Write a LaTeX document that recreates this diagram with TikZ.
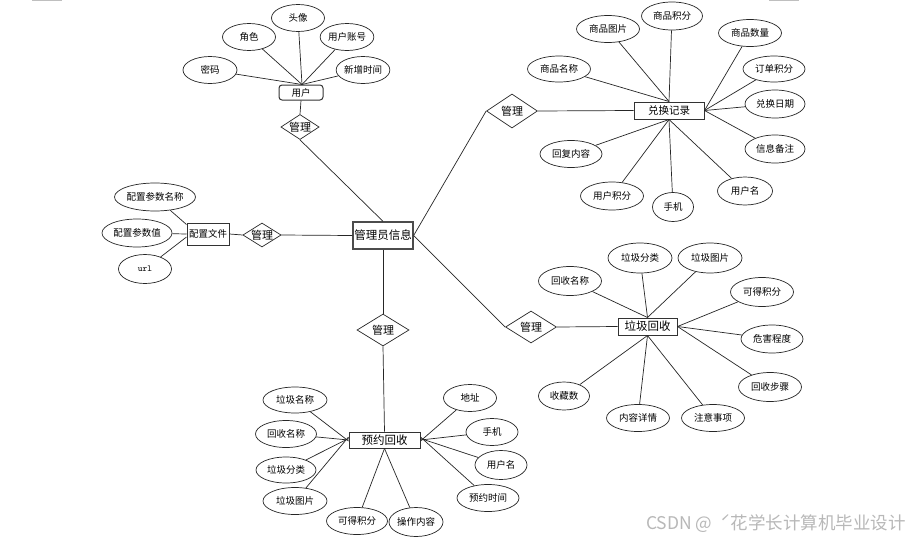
\documentclass[tikz,border=0pt]{standalone}
\usepackage{fontspec}
\setmainfont{Noto Sans CJK SC}
\usetikzlibrary{shapes.geometric}
\tikzset{
  attr/.style={ellipse, draw=black!85, line width=0.7pt, inner sep=0pt, minimum width=#1, minimum height=27, font=\fontsize{9.5}{10}\selectfont},
  attr/.default=62,
  ent/.style={rectangle, draw=black!80, line width=1pt, inner sep=0pt, font=\fontsize{10.5}{12}\selectfont},
  rel/.style={diamond, draw=black!85, line width=0.7pt, inner sep=0pt, aspect=1.6, font=\fontsize{11}{12}\selectfont},
  link/.style={draw=black!85, line width=0.7pt},
}
\begin{document}
\begin{tikzpicture}[x=1pt,y=-1pt]
\useasboundingbox (0,0) rectangle (910,541);
\fill[white] (0,0) rectangle (910,541);
\draw[gray!50, line width=1.2pt] (32,0.6) -- (62,0.6);
\draw[gray!50, line width=1.2pt] (769,0.6) -- (799,0.6);

% admin
\node[ent, minimum width=60, minimum height=27, line width=1.3pt, draw=black!70, font=\fontsize{11.5}{13}\selectfont] (admin) at (383,235.5) {管理员信息};

% user
\node[ent, rounded corners=3pt, minimum width=44, minimum height=15, font=\fontsize{9.5}{10}\selectfont] (user) at (301,92.5) {用户};
\node[attr=53] (u1) at (298,18) {头像};
\node[attr=53] (u2) at (249,37) {角色};
\node[attr=53] (u3) at (347,37) {用户账号};
\node[attr=54] (u4) at (210,70) {密码};
\node[attr=53] (u5) at (363,70) {新增时间};
\node[rel, minimum width=36, minimum height=25] (duser) at (300,127) {管理};
\foreach \n in {u1,u2,u3,u4,u5} \draw[link] (\n) -- ([xshift=1pt]user.north);
\draw[link] (user.south) -- (duser.north);
\draw[link] (duser.south) -- (admin.north);

% config
\node[ent, minimum width=42, minimum height=22, font=\fontsize{9.5}{10}\selectfont] (cfg) at (208,234) {配置文件};
\node[rel, minimum width=37, minimum height=24] (dcfg) at (262,235) {管理};
\node[attr=81, minimum height=28] (c1) at (155,197) {配置参数名称};
\node[attr=70, minimum height=28] (c2) at (137,233) {配置参数值};
\node[attr=53, minimum height=29, font=\ttfamily\fontsize{9}{10}\selectfont] (c3) at (145,269) {url};
\draw[link] (c1) -- ([yshift=-2pt]cfg.north west);
\draw[link] (c2) -- (cfg.west);
\draw[link] (c3) -- ([yshift=-3pt]cfg.west);
\draw[link] (cfg.east) -- (dcfg.west);
\draw[link] (dcfg.east) -- (admin.west);

% exchange
\node[ent, minimum width=70, minimum height=17] (ex) at (669,110.5) {兑换记录};
\node[rel, minimum width=51, minimum height=34] (dex) at (512,111) {管理};
\draw[link] (admin.east) -- (dex.west);
\draw[link] (dex.east) -- (ex.west);
\node[attr=63] (e1) at (608,29) {商品图片};
\node[attr=61, minimum height=28] (e2) at (672,16) {商品积分};
\node[attr=63] (e3) at (750,33) {商品数量};
\node[attr=63, minimum height=26] (e4) at (559,69) {商品名称};
\node[attr=62, minimum height=26] (e5) at (774,69) {订单积分};
\node[attr=60, minimum height=28] (e6) at (775,104) {兑换日期};
\node[attr=60, minimum height=28] (e7) at (775,149) {信息备注};
\node[attr=62] (e8) at (571,154) {回复内容};
\node[attr=63, minimum height=28] (e9) at (612,196) {用户积分};
\node[attr=41, minimum height=29] (e10) at (673,207) {手机};
\node[attr=55, minimum height=28] (e11) at (745,191) {用户名};
\foreach \n in {e1,e2,e4} \draw[link] (\n) -- (ex.north);
\foreach \n in {e3,e5,e6,e7} \draw[link] (\n) -- (ex.east);
\foreach \n in {e8,e9,e10,e11} \draw[link] (\n) -- (ex.south);

% garbage
\node[ent, minimum width=59, minimum height=17, font=\fontsize{11.5}{13}\selectfont] (gb) at (647.5,326.5) {垃圾回收};
\node[rel, minimum width=51, minimum height=32] (dgb) at (531,327) {管理};
\draw[link] (admin.east) -- (dgb.west);
\draw[link] (dgb.east) -- (gb.west);
\node[attr=63, minimum height=29] (g1) at (570,281) {回收名称};
\node[attr=64, minimum height=30] (g2) at (640,258) {垃圾分类};
\node[attr=64, minimum height=30] (g3) at (710,258) {垃圾图片};
\node[attr=63, minimum height=29] (g4) at (762,292) {可得积分};
\node[attr=62, minimum height=28] (g5) at (772,339) {危害程度};
\node[attr=63, minimum height=29] (g6) at (770,387) {回收步骤};
\node[attr=51, minimum height=28] (g7) at (564,396) {收藏数};
\node[attr=63] (g8) at (638,418) {内容详情};
\node[attr=63] (g9) at (713,418) {注意事项};
\foreach \n in {g1,g2,g3} \draw[link] (\n) -- (gb.north);
\foreach \n in {g4,g5,g6} \draw[link] (\n) -- (gb.east);
\foreach \n in {g7,g8,g9} \draw[link] (\n) -- (gb.south);

% reservation
\node[ent, minimum width=71, minimum height=16, font=\fontsize{11.5}{13}\selectfont] (rs) at (384.5,440) {预约回收};
\node[rel, minimum width=52, minimum height=32] (drs) at (383,330) {管理};
\draw[link] (admin.south) -- (drs.north);
\draw[link] (drs.south) -- (rs.north);
\node[attr=64, minimum height=26] (r1) at (295,400) {垃圾名称};
\node[attr=61] (r2) at (286,434) {回收名称};
\node[attr=60, minimum height=26] (r3) at (286,470) {垃圾分类};
\node[attr=64] (r4) at (295,501) {垃圾图片};
\node[attr=61] (r5) at (357,521) {可得积分};
\node[attr=54, minimum height=29] (r6) at (416,522) {操作内容};
\node[attr=53] (r7) at (470,398) {地址};
\node[attr=52] (r8) at (492,432) {手机};
\node[attr=52, minimum height=29] (r9) at (501,465) {用户名};
\node[attr=62] (r10) at (488,498) {预约时间};
\draw[link] (r1) -- ([yshift=-1pt]rs.west);
\draw[link] (r2) -- (rs.west);
\draw[link] (r3) -- ([yshift=1.5pt]rs.west);
\draw[link] (r4) -- ([yshift=3pt]rs.west);
\draw[link] (r5) -- (rs.south);
\draw[link] (r6) -- (rs.south);
\draw[link] (r7) -- ([yshift=-1pt]rs.east);
\draw[link] (r8) -- (rs.east);
\draw[link] (r9) -- ([yshift=1.5pt]rs.east);
\draw[link] (r10) -- ([yshift=3pt]rs.east);

% watermark
\node[text=black!28, font=\fontsize{17.5}{19}\selectfont, anchor=east, inner sep=0pt] (wm) at (906,524) {CSDN @\ \ ˊ花学长计算机毕业设计};
\end{tikzpicture}
\end{document}
